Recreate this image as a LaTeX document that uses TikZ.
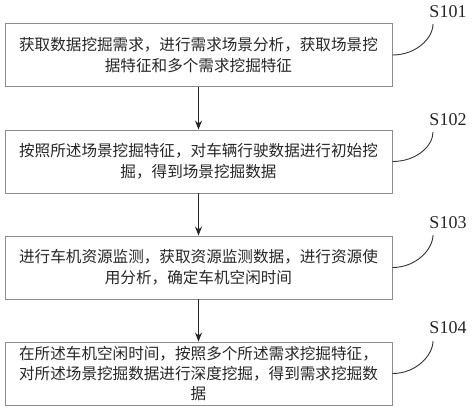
\documentclass[tikz,border=0pt]{standalone}
\usepackage{fontspec}
\setmainfont{Liberation Serif}
\newfontfamily\cjk{Noto Sans CJK SC}
\usetikzlibrary{arrows.meta}
\begin{document}
\begin{tikzpicture}[x=1pt,y=-1pt,
  stepbox/.style={draw=black!45,line width=0.9pt,minimum width=387pt,minimum height=63pt,
    inner sep=0pt,align=center,text=black!85,font=\cjk\fontsize{15.6}{21}\selectfont},
  steplabel/.style={font=\fontsize{18}{20}\selectfont,text=black!85,inner sep=0pt},
  flow/.style={-{Stealth[length=9pt,width=7pt]},line width=0.9pt,black!85},
  lead/.style={line width=0.9pt,black!80}]
\useasboundingbox (0,0) rectangle (474,416);
\node[stepbox] (b1) at (198.5,55) {获取数据挖掘需求，进行需求场景分析，获取场景挖\\据特征和多个需求挖掘特征};
\node[stepbox] (b2) at (198.5,161.5) {按照所述场景挖掘特征，对车辆行驶数据进行初始挖\\掘，得到场景挖掘数据};
\node[stepbox] (b3) at (198.5,267.5) {进行车机资源监测，获取资源监测数据，进行资源使\\用分析，确定车机空闲时间};
\node[stepbox,font=\cjk\fontsize{15.6}{20}\selectfont] (b4) at (198.5,373.5) {在所述车机空闲时间，按照多个所述需求挖掘特征，\\对所述场景挖掘数据进行深度挖掘，得到需求挖掘数\\据};
\node[steplabel] (l1) at (448,12) {S101};
\node[steplabel] (l2) at (448,120) {S102};
\node[steplabel] (l3) at (448,223) {S103};
\node[steplabel] (l4) at (448,328) {S104};
\coordinate (c1) at (433,24);
\coordinate (c2) at (433,132);
\coordinate (c3) at (433,235);
\coordinate (c4) at (433,341);
\foreach \i in {1,2,3,4}{
  \draw[lead] (b\i.east) .. controls +(24,0) and +(0,14) .. (c\i);
}
\draw[flow] (b1) -- (b2);
\draw[flow] (b2) -- (b3);
\draw[flow] (b3) -- (b4);
\end{tikzpicture}
\end{document}
